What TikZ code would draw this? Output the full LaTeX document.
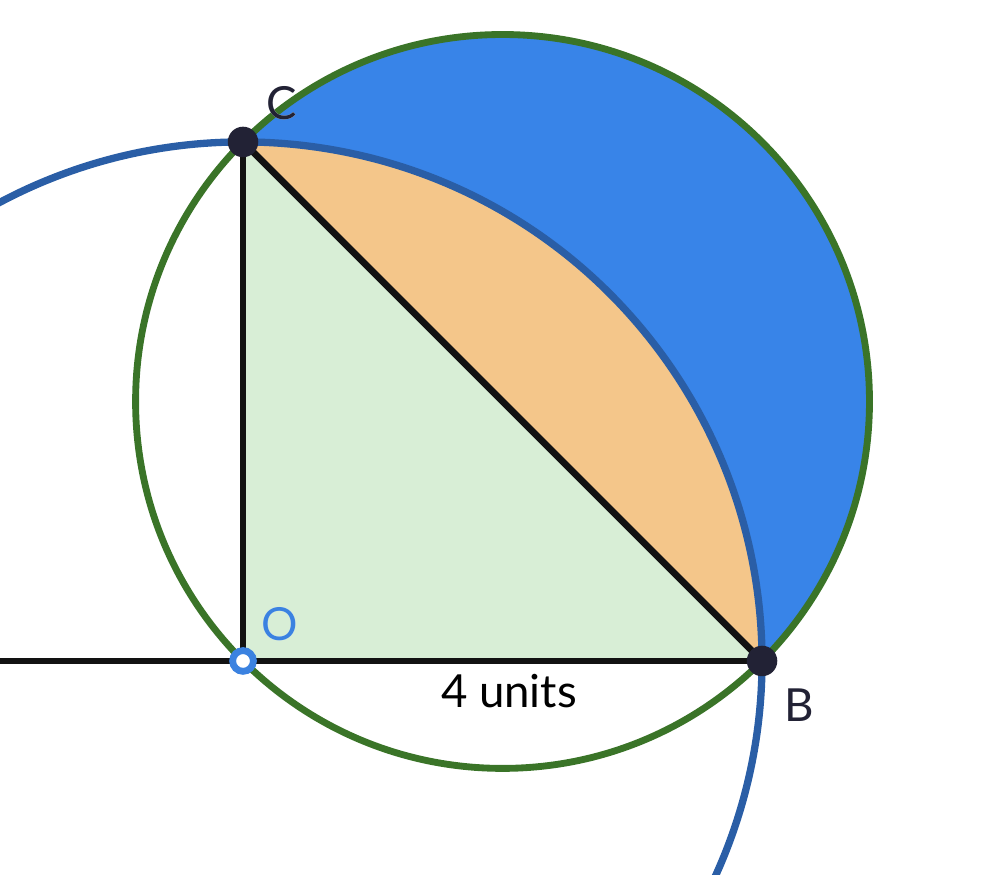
\documentclass[tikz,border=0pt]{standalone}
\usepackage{fontspec}
\setmainfont{Lato}
\usepackage[outline]{contour}
\contourlength{1.2pt}
\usepackage{tikz}

\definecolor{lunefill}{HTML}{3884E8}
\definecolor{segfill}{HTML}{F4C68A}
\definecolor{trifill}{HTML}{D8EED6}
\definecolor{circgreen}{HTML}{3A7428}
\definecolor{arcblue}{HTML}{2A5EA6}
\definecolor{ptdark}{HTML}{222235}
\definecolor{ptblue}{HTML}{3B82E0}

\begin{document}
\begin{tikzpicture}[
    x=1cm, y=1cm,
    edge/.style={line width=1.5pt, color=black!93},
    ptdot/.style={circle, fill=ptdark, inner sep=0pt, minimum size=0.235cm},
    ptring/.style={circle, fill=white, draw=ptblue, line width=1.5pt, inner sep=0pt, minimum size=0.16cm},
    lbl/.style={font=\fontsize{10}{12}\selectfont, text=ptdark, inner sep=0pt}
  ]

    \useasboundingbox (-1.873, -1.642) rectangle (5.695, 5.094);
    \clip (-1.873, -1.642) rectangle (5.695, 5.094);

    \coordinate (O) at (0, 0);
    \coordinate (B) at (4, 0);
    \coordinate (C) at (0, 4);
    \coordinate (M) at (2, 2);
    \coordinate (L) at (-1.9, 0);

    % regions
    \fill [lunefill] (C) arc[start angle=135, end angle=-45, radius=2.828]
        arc[start angle=0, end angle=90, radius=4] -- cycle;
    \fill [segfill] (C) -- (B) arc[start angle=0, end angle=90, radius=4] -- cycle;
    \fill [trifill] (O) -- (B) -- (C) -- cycle;

    % circles
    \draw [circgreen, line width=1.5pt] (M) circle[radius=2.828];
    \draw [arcblue, line width=1.6pt] (O) ++(128:4) arc[start angle=128, end angle=-32, radius=4];

    % sides
    \draw [edge] (L) -- (B);
    \draw [edge] (O) -- (C);
    \draw [edge] (C) -- (B);

    % points
    \node [ptdot] (c) at (C) {};
    \node [ptdot] (b) at (B) {};
    \node [ptring] (o) at (O) {};

    \node [lbl] (cl) at (0.30, 4.30) {\contour{white}{C}};
    \node [lbl, text=ptblue] (ol) at (0.28, 0.28) {\contour{white}{O}};
    \node [lbl] (bl) at (4.29, -0.34) {B};
    \node [lbl, text=black] (ul) at (2.05, -0.23) {4 units};

\end{tikzpicture}
\end{document}
